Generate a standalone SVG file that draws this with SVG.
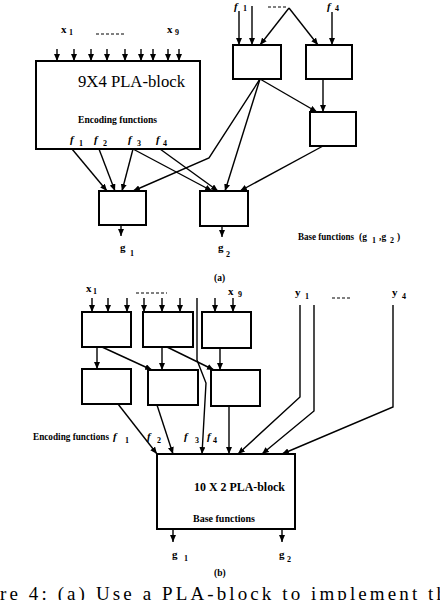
<svg xmlns="http://www.w3.org/2000/svg" width="440" height="600" viewBox="0 0 440 600">
<defs>
<marker id="ah" markerUnits="userSpaceOnUse" markerWidth="8" markerHeight="6" refX="7" refY="3" orient="auto">
<path d="M0,0 L7,3 L0,6 z" fill="#000"/>
</marker>
<style>
.box{fill:#fff;stroke:#000;stroke-width:2}
.c{fill:none;stroke:#000;stroke-width:1.4;marker-end:url(#ah)}
.d{fill:none;stroke:#000;stroke-width:1;stroke-dasharray:3,2}
text{font-family:"Liberation Serif","Times New Roman",serif;fill:#000}
.sm{font-size:9.5px;font-weight:bold}
.lb{font-size:11px;font-weight:bold}
.sub{font-size:8px;font-weight:bold}
</style>
</defs>
<rect width="440" height="600" fill="#fff"/>

<g id="connectors">
<!-- (a) inputs to 9x4 PLA -->
<line class="c" x1="57" y1="49" x2="57" y2="61"/>
<line class="c" x1="74" y1="49" x2="74" y2="61"/>
<line class="c" x1="91" y1="49" x2="91" y2="61"/>
<line class="c" x1="107" y1="49" x2="107" y2="61"/>
<line class="c" x1="125" y1="49" x2="125" y2="61"/>
<line class="c" x1="141" y1="49" x2="141" y2="61"/>
<line class="c" x1="153" y1="49" x2="153" y2="61"/>
<line class="c" x1="168" y1="49" x2="168" y2="61"/>
<line class="c" x1="179" y1="49" x2="179" y2="61"/>
<!-- (a) top right -->
<line class="c" x1="239" y1="11" x2="239" y2="45"/>
<line class="c" x1="252" y1="6" x2="252" y2="45"/>
<line class="c" x1="289" y1="8" x2="260" y2="45"/>
<line class="c" x1="289" y1="8" x2="318" y2="45"/>
<line class="c" x1="332" y1="12" x2="332" y2="45"/>
<line class="c" x1="323" y1="79" x2="323" y2="112"/>
<line class="c" x1="260" y1="79" x2="317" y2="112"/>
<polyline class="c" points="260,79 209,158 133,191"/>
<line class="c" x1="260" y1="79" x2="225" y2="191"/>
<line class="c" x1="323" y1="146" x2="240" y2="191"/>
<!-- (a) f outputs -->
<line class="c" x1="72" y1="149" x2="107" y2="191"/>
<line class="c" x1="99" y1="149" x2="115" y2="191"/>
<line class="c" x1="133" y1="149" x2="122" y2="191"/>
<line class="c" x1="133" y1="149" x2="212" y2="191"/>
<line class="c" x1="160" y1="149" x2="218" y2="191"/>
<!-- (a) outputs -->
<line class="c" x1="121" y1="225" x2="121" y2="236"/>
<line class="c" x1="222" y1="226" x2="222" y2="237"/>

<!-- (b) inputs -->
<line class="c" x1="92" y1="298" x2="92" y2="312"/>
<line class="c" x1="108" y1="298" x2="108" y2="312"/>
<line class="c" x1="127" y1="298" x2="127" y2="312"/>
<line class="c" x1="144" y1="298" x2="144" y2="312"/>
<line class="c" x1="162" y1="298" x2="162" y2="312"/>
<line class="c" x1="180" y1="298" x2="180" y2="312"/>
<line class="c" x1="215" y1="298" x2="215" y2="312"/>
<line class="c" x1="233" y1="298" x2="233" y2="312"/>
<!-- (b) between rows -->
<line class="c" x1="97" y1="347" x2="97" y2="369"/>
<line class="c" x1="102" y1="347" x2="152" y2="370"/>
<line class="c" x1="162" y1="347" x2="162" y2="370"/>
<line class="c" x1="167" y1="347" x2="214" y2="370"/>
<line class="c" x1="220" y1="348" x2="220" y2="370"/>
<polyline class="c" points="197,298 197,360 206,383 202,454"/>
<!-- (b) into 10x2 PLA -->
<line class="c" x1="118" y1="404" x2="157" y2="454"/>
<line class="c" x1="157" y1="405" x2="173" y2="454"/>
<line class="c" x1="229" y1="406" x2="229" y2="454"/>
<polyline class="c" points="300,305 300,397 238,454"/>
<polyline class="c" points="314,305 314,411 262,454"/>
<polyline class="c" points="393,305 393,407 282,454"/>
<!-- (b) outputs -->
<line class="c" x1="173" y1="529" x2="173" y2="542"/>
<line class="c" x1="282" y1="529" x2="282" y2="542"/>
<!-- dotted ellipses -->
<line class="d" x1="96" y1="34" x2="125" y2="34"/>
<line class="d" x1="268" y1="7" x2="288" y2="7"/>
<line class="d" x1="136" y1="293" x2="167" y2="293"/>
<line class="d" x1="332" y1="298" x2="352" y2="298"/>
</g>

<g id="pla9x4">
<rect class="box" x="36" y="61" width="164" height="88"/>
<text x="78" y="87" font-size="16" textLength="107" lengthAdjust="spacingAndGlyphs">9X4 PLA-block</text>
<text class="sm" x="78" y="123" textLength="79" lengthAdjust="spacingAndGlyphs">Encoding functions</text>
<text x="70" y="143" class="lb" font-style="italic">f</text><text x="79" y="146" class="sub">1</text>
<text x="94" y="143" class="lb" font-style="italic">f</text><text x="103" y="146" class="sub">2</text>
<text x="128" y="143" class="lb" font-style="italic">f</text><text x="137" y="146" class="sub">3</text>
<text x="156" y="143" class="lb" font-style="italic">f</text><text x="163" y="146" class="sub">4</text>
</g>
<g id="a-inputs-labels">
<text x="61" y="33" class="lb">x</text><text x="69" y="35" class="sub">1</text>
<text x="167" y="33" class="lb">x</text><text x="175" y="35" class="sub">9</text>
<text x="234" y="10" class="lb" font-style="italic">f</text><text x="243" y="11" class="sub">1</text>
<text x="327" y="10" class="lb" font-style="italic">f</text><text x="335" y="11" class="sub">4</text>
</g>
<g id="boxA"><rect class="box" x="233" y="45" width="48" height="34"/></g>
<g id="boxB"><rect class="box" x="306" y="45" width="46" height="34"/></g>
<g id="boxC"><rect class="box" x="310" y="112" width="46" height="34"/></g>
<g id="g1a">
<rect class="box" x="99" y="191" width="47" height="34"/>
<text x="120" y="251" class="lb">g</text><text x="130" y="256" class="sub">1</text>
</g>
<g id="g2a">
<rect class="box" x="200" y="191" width="48" height="35"/>
<text x="218" y="251" class="lb">g</text><text x="226" y="257" class="sub">2</text>
</g>
<g id="base-a">
<text class="sm" x="298" y="240" textLength="56" lengthAdjust="spacingAndGlyphs">Base functions</text>
<text class="sm" x="359" y="240">(g</text><text class="sub" x="372" y="243">1</text>
<text class="sm" x="379" y="240">,g</text><text class="sub" x="390" y="243">2</text>
<text class="sm" x="397" y="240">)</text>
<text x="214" y="281" class="sm">(a)</text>
</g>

<g id="b-labels">
<text x="86" y="292" class="lb">x</text><text x="93" y="294" class="sub">1</text>
<text x="228" y="295" class="lb">x</text><text x="238" y="297" class="sub">9</text>
<text x="295" y="296" class="lb">y</text><text x="305" y="299" class="sub">1</text>
<text x="392" y="296" class="lb">y</text><text x="402" y="299" class="sub">4</text>
<text class="sm" x="33" y="440" textLength="76" lengthAdjust="spacingAndGlyphs">Encoding functions</text>
<text x="113" y="440" class="lb" font-style="italic">f</text><text x="125" y="443" class="sub">1</text>
<text x="147" y="440" class="lb" font-style="italic">f</text><text x="157" y="443" class="sub">2</text>
<text x="184" y="440" class="lb" font-style="italic">f</text><text x="195" y="443" class="sub">3</text>
<text x="207" y="440" class="lb" font-style="italic">f</text><text x="213" y="443" class="sub">4</text>
</g>
<g id="b1"><rect class="box" x="82" y="312" width="49" height="35"/></g>
<g id="b2"><rect class="box" x="143" y="312" width="50" height="35"/></g>
<g id="b3"><rect class="box" x="202" y="312" width="49" height="36"/></g>
<g id="b4"><rect class="box" x="82" y="369" width="49" height="35"/></g>
<g id="b5"><rect class="box" x="148" y="370" width="50" height="35"/></g>
<g id="b6"><rect class="box" x="211" y="370" width="49" height="36"/></g>
<g id="pla10x2">
<rect class="box" x="157" y="454" width="138" height="75"/>
<text x="194" y="491" font-size="12" font-weight="bold" textLength="91" lengthAdjust="spacingAndGlyphs">10 X 2 PLA-block</text>
<text x="193" y="522" font-size="10" font-weight="bold">Base functions</text>
</g>
<g id="b-outputs">
<text x="172" y="558" class="lb">g</text><text x="184" y="561" class="sub">1</text>
<text x="214" y="576" class="sm">(b)</text>
<text x="279" y="558" class="lb">g</text><text x="287" y="562" class="sub">2</text>
</g>
<text x="0" y="600" font-size="19" textLength="446" lengthAdjust="spacing">re 4: (a) Use a PLA-block to implement th</text>
</svg>
